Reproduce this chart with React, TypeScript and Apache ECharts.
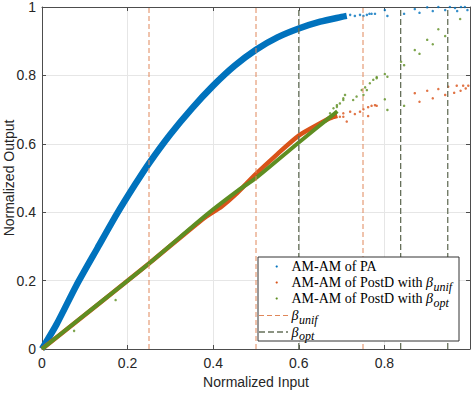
import React, { useEffect, useRef } from "react";
import * as echarts from "echarts";

// ---- data ----
const xTicks = [0, 0.2, 0.4, 0.6, 0.8];
const yTicks = [0, 0.2, 0.4, 0.6, 0.8, 1];

// dense AM-AM band of the PA (centre line of the point cloud)
const paBand: number[][] = [
  [0, 0], [0.034, 0.072], [0.08, 0.185], [0.13, 0.296], [0.175, 0.395],
  [0.217, 0.48], [0.25, 0.543], [0.3, 0.628], [0.35, 0.703], [0.4, 0.77],
  [0.45, 0.828], [0.5, 0.875], [0.55, 0.911], [0.6, 0.937], [0.65, 0.957],
  [0.7, 0.971], [0.712, 0.974],
];
// sparse PA points
const paPoints: number[][] = [
  [0.72, 0.977], [0.731, 0.974], [0.743, 0.977], [0.751, 0.974], [0.759, 0.977],
  [0.765, 0.98], [0.77, 0.98], [0.778, 0.98], [0.801, 0.991], [0.807, 0.974],
  [0.846, 0.98], [0.871, 0.994], [0.882, 0.983], [0.9, 0.999], [0.913, 0.988],
  [0.926, 1.0], [0.942, 0.991], [0.953, 1.0], [0.965, 0.997], [0.97, 0.988],
  [0.979, 1.0], [0.988, 1.0], [0.994, 0.991],
];

// PostD with beta_unif
const unifBand: number[][] = [
  [0, 0], [0.25, 0.25], [0.38, 0.384], [0.42, 0.417], [0.45, 0.449], [0.5, 0.512],
  [0.55, 0.57], [0.6, 0.624], [0.65, 0.66], [0.673, 0.675], [0.69, 0.682],
];
const unifPoints: number[][] = [
  [0.778, 0.713], [0.77, 0.711], [0.762, 0.707], [0.751, 0.701], [0.743, 0.694],
  [0.762, 0.681], [0.731, 0.687], [0.72, 0.694], [0.712, 0.665], [0.704, 0.689],
  [0.696, 0.679], [0.704, 0.679], [0.782, 0.711],
  [0.871, 0.748], [0.882, 0.723], [0.9, 0.755], [0.913, 0.733], [0.926, 0.76],
  [0.942, 0.743], [0.949, 0.767], [0.963, 0.749], [0.969, 0.77], [0.978, 0.755],
  [0.984, 0.77], [0.99, 0.762], [0.996, 0.77],
];

// PostD with beta_opt
const optBand: number[][] = [
  [0, 0], [0.1, 0.1], [0.25, 0.25], [0.385, 0.393], [0.463, 0.468], [0.5, 0.5],
  [0.6, 0.604], [0.673, 0.678], [0.69, 0.695],
];
const optPoints: number[][] = [
  [0.075, 0.053], [0.172, 0.143],
  [0.782, 0.795], [0.774, 0.787], [0.766, 0.777], [0.755, 0.765], [0.747, 0.757],
  [0.735, 0.738], [0.727, 0.728], [0.708, 0.743], [0.704, 0.728], [0.696, 0.718],
  [0.689, 0.708], [0.681, 0.704], [0.759, 0.757], [0.751, 0.743], [0.673, 0.689],
  [0.689, 0.713], [0.704, 0.733], [0.782, 0.792],
  [0.801, 0.804], [0.807, 0.796], [0.839, 0.84], [0.846, 0.83], [0.871, 0.874],
  [0.882, 0.863], [0.9, 0.904], [0.913, 0.891], [0.926, 0.935], [0.942, 0.915],
  [0.977, 0.965], [0.801, 0.73], [0.807, 0.699], [0.846, 0.711],
];

const unifBetas = [0.25, 0.5, 0.75];
const optBetas = [0.6, 0.838, 0.948];

// ---- styling ----
const BLUE = "#0072BD";
const ORANGE = "#D95319";
const GREEN = "#5E8E22";
const ORANGE_DASH = "#E0875A";
const GREEN_DASH = "#66705A";
const AXIS = "#4d4d4d";
const SANS = "Liberation Sans, Arial, sans-serif";
const SERIF = "Liberation Serif, Times New Roman, serif";

function textWidth(t: string, font: string): number {
  const c = document.createElement("canvas").getContext("2d");
  if (!c) return t.length * 7;
  c.font = font;
  return c.measureText(t).width;
}

function buildLegend() {
  const els: any[] = [];
  const boxX = 258, boxY = 257, boxW = 201, boxH = 84;
  els.push({
    type: "rect", z: 100,
    shape: { x: boxX, y: boxY, width: boxW, height: boxH },
    style: { fill: "#fff", stroke: "#333", lineWidth: 1 },
  });
  const textX = 291.5;
  const rowsY = [266.5, 282.5, 298.5, 315.5, 332];
  const mainFont = `14px "Liberation Serif"`;
  const betaFont = `italic 14px "Liberation Serif"`;
  const addText = (x: number, y: number, text: string, size: number, italic: boolean) => {
    els.push({
      type: "text", z: 101, x, y,
      style: {
        text, fontSize: size, fontFamily: SERIF, fontStyle: italic ? "italic" : "normal",
        fill: "#000", verticalAlign: "middle", align: "left",
      },
    });
  };
  const addBeta = (x: number, y: number, sub: string) => {
    addText(x, y, "β", 14, true);
    const bw = textWidth("β", betaFont);
    addText(x + bw + 0.5, y + 4, sub, 12, true);
  };
  const dots = [BLUE, ORANGE, GREEN];
  dots.forEach((c, i) => {
    els.push({
      type: "circle", z: 101,
      shape: { cx: 276.7, cy: rowsY[i], r: 1.1 },
      style: { fill: c },
    });
  });
  addText(textX, rowsY[0], "AM-AM of PA", 14, false);
  const pre = "AM-AM of PostD with ";
  const pw = textWidth(pre, mainFont);
  addText(textX, rowsY[1], pre, 14, false);
  addBeta(textX + pw, rowsY[1], "unif");
  addText(textX, rowsY[2], pre, 14, false);
  addBeta(textX + pw, rowsY[2], "opt");
  els.push({
    type: "line", z: 101,
    shape: { x1: 259, y1: rowsY[3], x2: 288, y2: rowsY[3] },
    style: { stroke: ORANGE_DASH, lineWidth: 1, lineDash: [5, 3] },
  });
  addBeta(textX, rowsY[3], "unif");
  els.push({
    type: "line", z: 101,
    shape: { x1: 259, y1: rowsY[4], x2: 288, y2: rowsY[4] },
    style: { stroke: GREEN_DASH, lineWidth: 1.3, lineDash: [6, 3] },
  });
  addBeta(textX, rowsY[4], "opt");
  return els;
}

function buildOption(): any {
  const axisCommon = {
    type: "value", min: 0, max: 1, interval: 0.2,
    axisLine: { show: true, onZero: false, lineStyle: { color: AXIS, width: 1 } },
    axisTick: { show: true, inside: true, length: 4, lineStyle: { color: AXIS } },
  };
  const band = (data: number[][], color: string, width: number, z: number) => ({
    type: "line", data, smooth: 0.25, showSymbol: false, silent: true, z,
    lineStyle: { color, width, cap: "butt" },
  });
  const pts = (data: number[][], color: string, z: number) => ({
    type: "scatter", data, symbol: "circle", symbolSize: 2.5, silent: true, z,
    itemStyle: { color },
  });
  const vline = (x: number, color: string, width: number, dash: number[]) => ({
    type: "line", data: [[x, 0], [x, 1]], showSymbol: false, silent: true, z: 5,
    lineStyle: { color, width, type: dash },
  });
  return {
    animation: false,
    backgroundColor: "#fff",
    grid: { left: 42, top: 7, right: 4, bottom: 46, containLabel: false, outerBoundsMode: "none" },
    xAxis: [
      {
        ...axisCommon,
        position: "bottom",
        name: "Normalized Input", nameLocation: "middle", nameGap: 26, nameMoveOverlap: false,
        nameTextStyle: { fontFamily: SANS, fontSize: 14, color: "#262626" },
        axisLabel: {
          fontFamily: SANS, fontSize: 14, color: "#262626", margin: 7,
          showMaxLabel: false,
          formatter: (v: number) => (xTicks.some((t) => Math.abs(t - v) < 1e-6) ? String(+v.toFixed(1)) : ""),
        },
        splitLine: { show: true, lineStyle: { color: "#e6e6e6", width: 1 } },
      },
      {
        ...axisCommon, position: "top",
        axisLabel: { show: false }, splitLine: { show: false },
      },
    ],
    yAxis: [
      {
        ...axisCommon,
        position: "left",
        name: "Normalized Output", nameLocation: "middle", nameGap: 26, nameMoveOverlap: false,
        nameTextStyle: { fontFamily: SANS, fontSize: 14, color: "#262626" },
        axisLabel: {
          fontFamily: SANS, fontSize: 14, color: "#262626", margin: 6,
          formatter: (v: number) => (yTicks.some((t) => Math.abs(t - v) < 1e-6) ? String(+v.toFixed(1)) : ""),
        },
        splitLine: { show: true, lineStyle: { color: "#e6e6e6", width: 1 } },
      },
      {
        ...axisCommon, position: "right",
        axisLabel: { show: false }, splitLine: { show: false },
      },
    ],
    series: [
      band(paBand, BLUE, 6.5, 2),
      pts(paPoints, BLUE, 2),
      band(unifBand, ORANGE, 4.5, 3),
      pts(unifPoints, ORANGE, 3),
      band(optBand, GREEN, 4, 4),
      pts(optPoints, GREEN, 4),
      ...unifBetas.map((b) => vline(b, ORANGE_DASH, 1, [5, 3])),
      ...optBetas.map((b) => vline(b, GREEN_DASH, 1.3, [6, 3])),
    ],
    graphic: buildLegend(),
  };
}

export default function App() {
  const ref = useRef<HTMLDivElement>(null);
  useEffect(() => {
    if (!ref.current) return;
    const chart = echarts.init(ref.current, null, { renderer: "svg" });
    chart.setOption(buildOption());
    return () => chart.dispose();
  }, []);
  return (
    <div
      ref={ref}
      style={{ position: "fixed", left: 0, top: 0, width: 474, height: 395, background: "#fff" }}
    />
  );
}
